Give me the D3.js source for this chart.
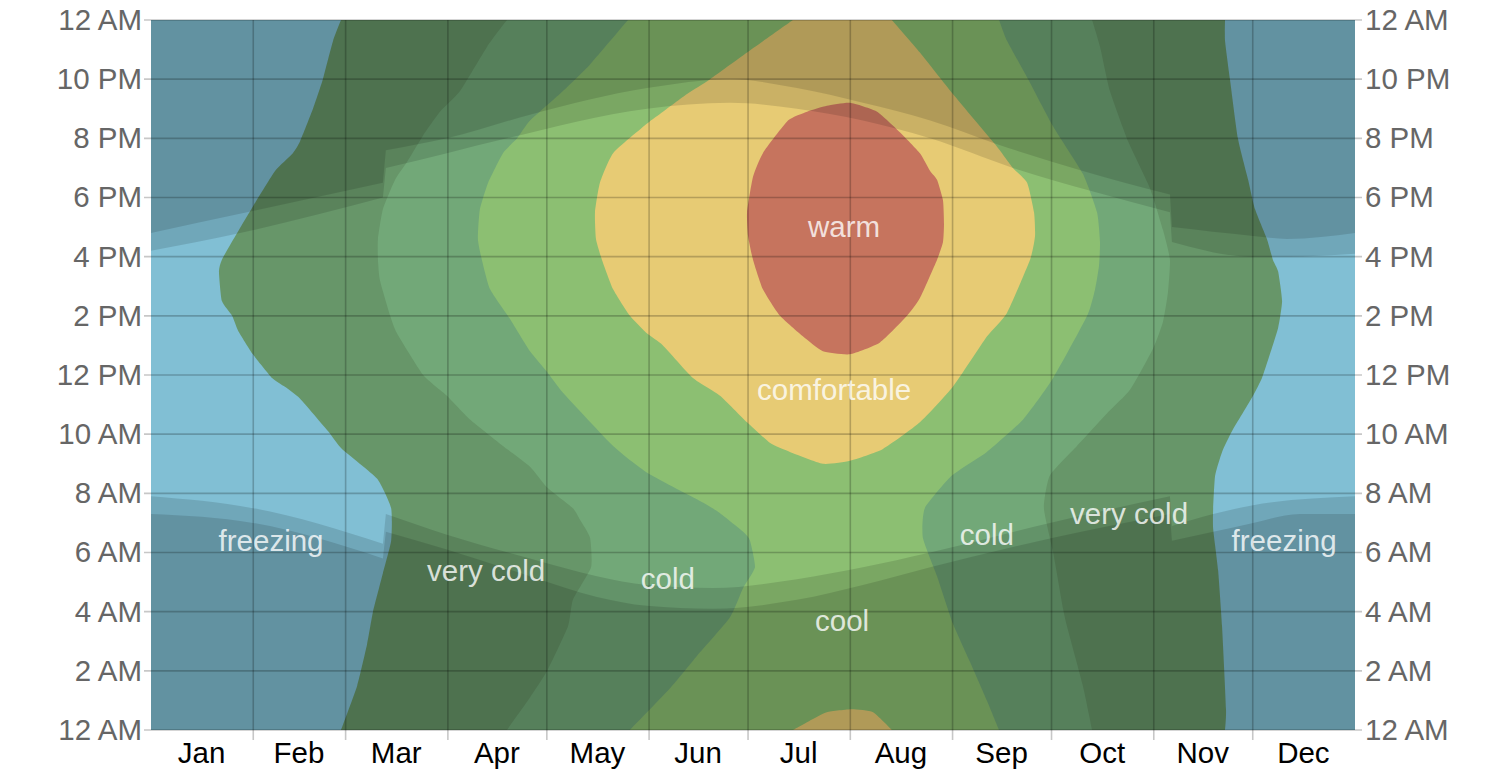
<!DOCTYPE html>
<html>
<head>
    <title>Temperature by hour and month</title>
    <script src="https://d3js.org/d3.v7.min.js"></script>
    <style>
        body { margin: 0; background: #fff; }
        text { font-family: "Liberation Sans", Arial, sans-serif; }
    </style>
</head>
<body>
    <div id="chart"></div>

    <script>
        // Values: every point is [day of year, hour of day]
        var months = ["Jan", "Feb", "Mar", "Apr", "May", "Jun", "Jul", "Aug", "Sep", "Oct", "Nov", "Dec"];
        var monthStarts = [0, 31, 59, 90, 120, 151, 181, 212, 243, 273, 304, 334, 365];
        var hourTicks = [0, 2, 4, 6, 8, 10, 12, 14, 16, 18, 20, 22, 24];
        var hourLabels = ["12 AM", "2 AM", "4 AM", "6 AM", "8 AM", "10 AM", "12 PM", "2 PM", "4 PM", "6 PM", "8 PM", "10 PM", "12 AM"];

        var veryColdStart = [[57.6,24],[55.2,23.3],[52.1,22],[49.1,21],[45.2,19.9],[43,19.5],[37.6,18.9],[30.9,17.7],[26.1,16.8],[21.5,15.9],[20.6,15.5],[21.5,14.5],[24.6,14],[26.4,13.5],[30.9,12.7],[36.7,11.9],[40.6,11.6],[45.2,11.2],[53.7,10.1],[57.9,9.5],[68.5,8.5],[72.8,7.5],[72.8,6.4],[70.3,5.3],[67.3,4],[65.5,2.9],[62.5,1.5],[57.6,0]];
        var veryColdEnd = [[325.6,0],[325.9,0.7],[324.7,3.5],[323.5,5.4],[322,6.8],[322,7.5],[322.6,8.6],[324.7,9.4],[327.7,10.1],[334.1,11.3],[336.8,11.9],[338.9,12.6],[341.7,13.6],[342.9,14.5],[341.7,15.5],[340.1,15.9],[338.3,16.6],[334.7,17.6],[332.6,18.6],[329.5,20],[327.1,22],[325.6,23.3],[325.6,24]];

        var coldStart = [[107.9,24],[101.9,23.1],[93.7,21.6],[87.6,20.9],[82.5,20.1],[77.6,19.2],[74,18.6],[70.3,17.6],[68.8,16.6],[68.8,15.9],[69.4,15.2],[72.5,14],[74.6,13.4],[82.5,12],[89.7,11.3],[96.7,10.5],[107.9,9.5],[114.9,8.9],[120.1,8.2],[127.9,7.5],[130.1,7.1],[133.1,6.5],[133.4,5.5],[127.9,4.4],[126.4,3.5],[120.1,2],[114.9,1.1],[107.9,0]];
        var coldEnd = [[285.3,0],[282.5,1.5],[277.7,3.5],[276.5,4.1],[273.5,6],[270.7,7.5],[272.5,8.6],[280.7,9.6],[289.8,10.7],[296.8,11.5],[303.8,12.9],[306.8,13.8],[308.3,14.8],[308.9,15.9],[306.8,16.9],[302.9,18.3],[296.2,19.9],[290.7,21.6],[287.7,23.1],[285.3,24]];

        var coolStart = [[144.6,24],[133.1,22.5],[124.9,21.6],[114.9,20.6],[111,20],[106.7,19.5],[102.2,18.5],[99.7,17.6],[99.1,16.6],[100.3,15.9],[102.8,14.9],[108.8,13.9],[114.9,12.8],[120.1,12.1],[124.9,11.4],[140.1,9.6],[150.4,8.7],[165.5,7.8],[171.6,7.4],[179.5,6.7],[181.6,6.4],[183.1,5.5],[179.5,4.8],[175.5,3.8],[165.5,2.5],[157.3,1.4],[145.2,0]];
        var coolEnd = [[257.1,0],[253.4,1],[248.3,2.3],[243.1,3.6],[238.3,5.2],[234,6.5],[234.6,7.5],[242.8,8.6],[253.4,9.4],[264.4,10.5],[273.5,11.9],[283.8,14],[286.2,14.9],[287.4,15.7],[287.7,16.5],[286.8,17.5],[282.5,18.8],[273.5,20.4],[265.9,22],[259.5,23.3],[257.1,24]];

        var comfortableDay = [[194.6,24],[180.7,22.9],[169.5,22],[162.5,21.5],[155.2,20.9],[150.4,20.5],[140.1,19.5],[136.1,18.5],[134.6,17.5],[134.9,16.6],[136.7,15.9],[140.1,14.9],[145.2,14],[150.4,13.4],[155.2,13],[164.3,11.9],[172.5,11.3],[180.7,10.4],[187.7,9.7],[193.7,9.4],[203.7,9],[211.9,9.1],[221.9,9.5],[233.1,10.4],[243.1,11.6],[253.4,13.3],[259.5,14.1],[266.5,15.9],[268,16.7],[267.7,17.5],[265.6,18.5],[261.3,19],[255.9,19.8],[243.1,21.5],[233.1,22.9],[224.6,24]];
        var comfortableNight = [[194.6,0],[199.5,0.3],[204.9,0.6],[212.5,0.7],[218.9,0.6],[224.6,0]];

        var warmDay = [[204.9,21.1],[211.9,21.2],[220.1,20.9],[227.1,20.2],[233.1,19.5],[236.2,18.9],[238.3,18.6],[240.1,17.9],[240.4,17.1],[240.1,16.5],[238.3,15.9],[233.1,14.6],[229.2,14],[221,13.1],[211.9,12.7],[203.7,12.8],[197.7,13.3],[190.7,14],[185.5,14.9],[182.5,15.9],[181,16.7],[180.7,17.5],[182.5,18.7],[185.5,19.5],[193.1,20.6],[198.9,20.9]];

        // Sun times, the steps are the clock changes
        var clockChanges = [71, 309.2];
        var sunset = [[0,16.2],[27,16.8],[70.3,18],[71.2,19],[89.7,19.5],[107.9,20],[150.4,21],[175.5,21.2],[195.8,21],[215.8,20.6],[236.2,20],[261.3,19],[285.6,18.2],[308.9,17.5],[309.5,16.5],[334.1,16],[344.4,16],[365,16.1]];
        var dusk = [[0,16.8],[29.1,17.5],[70.3,18.5],[71.2,19.6],[89.7,20],[114.9,20.8],[150.4,21.7],[175.5,22],[195.8,21.7],[215.8,21.2],[236.2,20.6],[256.5,19.8],[282.5,18.9],[308.9,18.1],[309.5,17],[334.1,16.7],[344.4,16.6],[365,16.8]];
        var sunrise = [[0,7.9],[30.9,7.5],[70.3,6.3],[71.2,7.3],[89.7,6.6],[114.9,5.8],[135.2,5.2],[150.4,4.9],[170.4,4.8],[195.8,5.1],[215.8,5.5],[236.2,6],[272.5,7],[308.9,7.9],[309.5,6.9],[322,7.3],[334.1,7.6],[365,7.9]];
        var dawn = [[0,7.3],[30.9,7],[70.3,5.8],[71.2,6.7],[89.7,6.1],[114.9,5.2],[135.2,4.5],[150.4,4.2],[170.4,4.1],[195.8,4.4],[215.8,4.9],[236.2,5.5],[273.5,6.5],[308.9,7.3],[309.5,6.4],[322,6.7],[334.1,7],[348.3,7.3],[365,7.3]];

        var bandNames = ["freezing", "freezing", "very cold", "very cold", "cold", "cold", "cool", "comfortable", "warm"];
        var bandNameDays = [36.4, 343.5, 101.6, 296.5, 156.7, 253.4, 209.5, 207.1, 210.1];
        var bandNameHours = [6.4, 6.4, 5.4, 7.3, 5.1, 6.6, 3.7, 11.5, 17];

        // Set the dimensions of the graph
        var margin = {top: 20, right: 151, bottom: 44, left: 151},
            width = 1506 - margin.left - margin.right,
            height = 774 - margin.top - margin.bottom;

        var svg = d3.select("#chart")
                    .append("svg")
                    .attr("width", width + margin.left + margin.right)
                    .attr("height", height + margin.top + margin.bottom)
                    .style("display", "block")
                    .append("g")
                    .attr("transform", "translate(" + margin.left + "," + margin.top + ")");

        var x = d3.scaleLinear().domain([0, 365]).range([0, width]);
        var y = d3.scaleLinear().domain([0, 24]).range([height, 0]);

        svg.append("clipPath").attr("id", "plot")
           .append("rect").attr("width", x(365)).attr("height", y(0));

        // Background is the freezing band
        svg.append("rect")
           .attr("width", x(365))
           .attr("height", y(0))
           .attr("fill", "#81bfd4");

        // Join several curves into one path, straight lines between them
        function joined(line, parts) {
            return parts.map(function(p, i) {
                return i ? line(p).replace(/^M/, "L") : line(p);
            }).join("");
        }

        // Temperature bands, coldest first, each one painted over the last
        var edge = d3.line().curve(d3.curveCardinal.tension(0.5))
            .x(function(d) { return x(d[0]); }).y(function(d) { return y(d[1]); });
        var blob = d3.line().curve(d3.curveCardinalClosed.tension(0.5))
            .x(function(d) { return x(d[0]); }).y(function(d) { return y(d[1]); });

        var bands = [
            {path: joined(edge, [veryColdStart, veryColdEnd]) + "Z", color: "#679669"},
            {path: joined(edge, [coldStart, coldEnd]) + "Z", color: "#72a878"},
            {path: joined(edge, [coolStart, coolEnd]) + "Z", color: "#8cbf72"},
            {path: edge(comfortableDay) + "Z", color: "#e7cb74"},
            {path: edge(comfortableNight) + "Z", color: "#e7cb74"},
            {path: blob(warmDay), color: "#c6745e"}
        ];
        svg.append("g")
           .attr("clip-path", "url(#plot)")
           .selectAll("path")
           .data(bands)
           .enter()
           .append("path")
           .attr("d", function(d) { return d.path; })
           .attr("fill", function(d) { return d.color; });

        // Night shading, two see-through layers at each end of the day
        var sunLine = d3.line().curve(d3.curveMonotoneX)
            .x(function(d) { return x(d[0]); }).y(function(d) { return y(d[1]); });

        function nightPath(times, closeHour) {
            var parts = [
                times.filter(function(d) { return d[0] < clockChanges[0]; }),
                times.filter(function(d) { return d[0] >= clockChanges[0] && d[0] < clockChanges[1]; }),
                times.filter(function(d) { return d[0] >= clockChanges[1]; })
            ];
            return joined(sunLine, parts) + "L" + x(365) + "," + y(closeHour) + "L" + x(0) + "," + y(closeHour) + "Z";
        }

        svg.selectAll("path.night")
           .data([nightPath(sunset, 24), nightPath(dusk, 24), nightPath(sunrise, 0), nightPath(dawn, 0)])
           .enter()
           .append("path")
           .attr("class", "night")
           .attr("d", function(d) { return d; })
           .attr("fill", "rgba(0,0,0,0.125)");

        // Axes, the long ticks are the grid
        var gridColor = "rgba(0,0,0,0.22)";

        svg.append("g")
           .attr("class", "grid")
           .attr("transform", "translate(" + (width + 7) + ",0)")
           .call(d3.axisLeft(y).offset(0).tickValues(hourTicks).tickSize(width + 14).tickFormat(""));

        svg.append("g")
           .attr("class", "grid")
           .attr("transform", "translate(0," + (height + 10) + ")")
           .call(d3.axisBottom(x).offset(0).tickValues(monthStarts.slice(1, 12)).tickSize(-(height + 10)).tickFormat(""));

        svg.selectAll(".grid line").attr("stroke", gridColor).attr("stroke-width", 1.6);
        svg.selectAll(".grid path").remove();

        var hourFormat = function(d, i) { return hourLabels[i]; };

        var leftAxis = svg.append("g")
           .call(d3.axisLeft(y).tickValues(hourTicks).tickSize(0).tickPadding(9).tickFormat(hourFormat));
        var rightAxis = svg.append("g")
           .attr("transform", "translate(" + width + ",0)")
           .call(d3.axisRight(y).tickValues(hourTicks).tickSize(0).tickPadding(10).tickFormat(hourFormat));

        var monthMiddles = months.map(function(m, i) { return (monthStarts[i] + monthStarts[i + 1]) / 2; });
        var monthAxis = svg.append("g")
           .attr("transform", "translate(0," + height + ")")
           .call(d3.axisBottom(x).tickValues(monthMiddles).tickSize(0).tickPadding(12)
                 .tickFormat(function(d, i) { return months[i]; }));

        [leftAxis, rightAxis, monthAxis].forEach(function(a) {
            a.select(".domain").remove();
            a.selectAll("text").style("font-size", "29.5px").style("font-family", "'Liberation Sans', Arial, sans-serif");
        });
        leftAxis.selectAll("text").attr("fill", "#666");
        rightAxis.selectAll("text").attr("fill", "#666");
        monthAxis.selectAll("text").attr("fill", "#000").attr("dx", -1);

        // Band names
        svg.selectAll("text.bandname")
           .data(bandNames)
           .enter()
           .append("text")
           .attr("class", "bandname")
           .attr("x", function(d, i) { return x(bandNameDays[i]); })
           .attr("y", function(d, i) { return y(bandNameHours[i]); })
           .attr("dy", "0.35em")
           .style("text-anchor", "middle")
           .style("font-size", "29.5px")
           .attr("fill", "rgba(255,255,255,0.8)")
           .text(function(d) { return d; });
    </script>
</body>
</html>
